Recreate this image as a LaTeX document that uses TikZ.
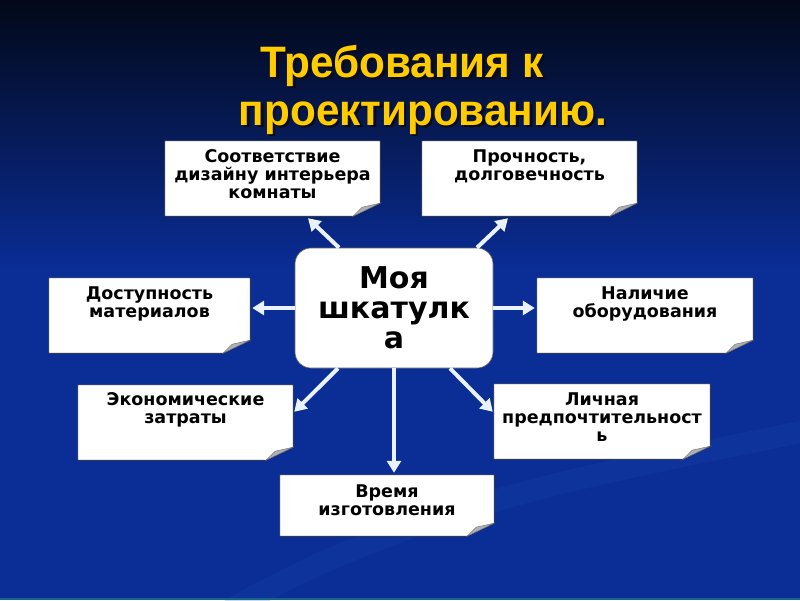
\documentclass[tikz,border=0pt]{standalone}
\usepackage{fontspec}
\setmainfont{DejaVu Sans}
\newfontfamily\titlefont{Liberation Sans Bold}
\usetikzlibrary{arrows.meta,calc}

\definecolor{bgtop}{RGB}{2,8,24}
\definecolor{bgmid}{RGB}{8,30,95}
\definecolor{bgblue}{RGB}{10,45,150}
\definecolor{bgstreak}{RGB}{30,75,175}
\definecolor{bgedge}{RGB}{20,100,140}
\definecolor{ttlyellow}{RGB}{255,204,0}
\definecolor{ttlshadow}{RGB}{10,10,20}
\definecolor{arrowwhite}{RGB}{235,242,255}
\definecolor{foldgray}{RGB}{175,175,182}

\newcommand\mypaper[1]{%
  \fill[white,draw=black!80,line width=0.6pt] (#1.north west) -- (#1.north east)
    -- ($(#1.south east)+(0,-13)$) -- ($(#1.south east)+(-27,0)$) -- (#1.south west) -- cycle;
  \fill[foldgray,draw=black!60,line width=0.4pt] ($(#1.south east)+(-27,0)$)
    .. controls ($(#1.south east)+(-23,-5)$) .. ($(#1.south east)+(-18,-9)$)
    -- ($(#1.south east)+(0,-13)$) -- cycle;}
\newcommand\ttlsq[1]{\scalebox{0.96}[1]{#1}}

\begin{document}
\begin{tikzpicture}[x=1pt,y=-1pt,
  boxn/.style={inner sep=0pt, draw=none, minimum height=75pt},
  boxtxt/.style={font=\bfseries\fontsize{17.5}{18}\selectfont, align=center,
    inner sep=0pt, anchor=north, text=black},
  centerbox/.style={fill=white, draw=black!60, line width=0.6pt, rounded corners=16pt,
    minimum width=198pt, minimum height=120pt, inner sep=0pt, align=center,
    font=\bfseries\fontsize{30}{30}\selectfont},
  ttl/.style={font=\titlefont\fontsize{44}{48}\selectfont, anchor=base, inner sep=0pt},
  arr/.style={draw=arrowwhite, line width=4pt, -{Triangle[length=12pt,width=14pt]}}]

% background
\useasboundingbox (0,0) rectangle (800,600);
\fill[top color=bgtop, middle color=bgmid, bottom color=bgblue] (0,0) rectangle (800,270);
\fill[bgblue] (0,269) rectangle (800,600);
\draw[bgstreak, line width=22pt, opacity=0.22] (230,610) .. controls (420,500) and (620,470) .. (810,430);
\fill[bgedge] (0,597.5) rectangle (800,600);

% title (shadow, then text)
\node[ttl, text=ttlshadow] (ts1) at (404.5,79.5) {\ttlsq{Требования к}};
\node[ttl, text=ttlshadow] (ts2) at (425.5,127.5) {\ttlsq{проектированию.}};
\node[ttl, text=ttlyellow] (t1) at (402,77) {\ttlsq{Требования к}};
\node[ttl, text=ttlyellow] (t2) at (423,125) {\ttlsq{проектированию.}};

% boxes
\node[boxn, minimum width=215pt] (b1) at (272.5,178.5) {};
\node[boxn, minimum width=215pt] (b2) at (529.5,178.5) {};
\node[boxn, minimum width=201pt] (b3) at (149.5,315.5) {};
\node[boxn, minimum width=216pt] (b4) at (645,315.5) {};
\node[boxn, minimum width=215pt] (b5) at (185.5,422.5) {};
\node[boxn, minimum width=216pt] (b6) at (602,421.5) {};
\node[boxn, minimum width=214pt, minimum height=61pt] (b7) at (387,505.5) {};

\mypaper{b1}\mypaper{b2}\mypaper{b3}\mypaper{b4}\mypaper{b5}\mypaper{b6}\mypaper{b7}

\node[boxtxt] (l1) at ($(b1.north)+(0,9)$) {Соответствие\\дизайну интерьера\\комнаты};
\node[boxtxt] (l2) at ($(b2.north)+(0,9)$) {Прочность,\\долговечность};
\node[boxtxt] (l3) at ($(b3.north)+(0,9)$) {Доступность\\материалов};
\node[boxtxt] (l4) at ($(b4.north)+(0,9)$) {Наличие\\оборудования};
\node[boxtxt] (l5) at ($(b5.north)+(0,8)$) {Экономические\\затраты};
\node[boxtxt] (l6) at ($(b6.north)+(0,9)$) {Личная\\предпочтительност\\ь};
\node[boxtxt] (l7) at ($(b7.north)+(0,10)$) {Время\\изготовления};

% centre
\node[centerbox] (c) at (394,308) {Моя\\шкатулк\\а};

% arrows
\draw[arr] ($(c.north)+(-55,0)$) -- ($(b1.south)+(35.5,2)$);
\draw[arr] ($(c.north)+(83,0)$) -- ($(b2.south)+(-21.5,2)$);
\draw[arr] (c.west) -- ($(b3.east |- c.west)+(2,0)$);
\draw[arr] (c.east) -- ($(b4.west |- c.east)+(-2,0)$);
\draw[arr] ($(c.south)+(-56,0)$) -- ($(b5.north east)+(1,27)$);
\draw[arr] ($(c.south)+(56,0)$) -- ($(b6.north west)+(-1,28)$);
\draw[arr] (c.south) -- ($(c.south |- b7.north)+(0,-2)$);
\end{tikzpicture}
\end{document}
